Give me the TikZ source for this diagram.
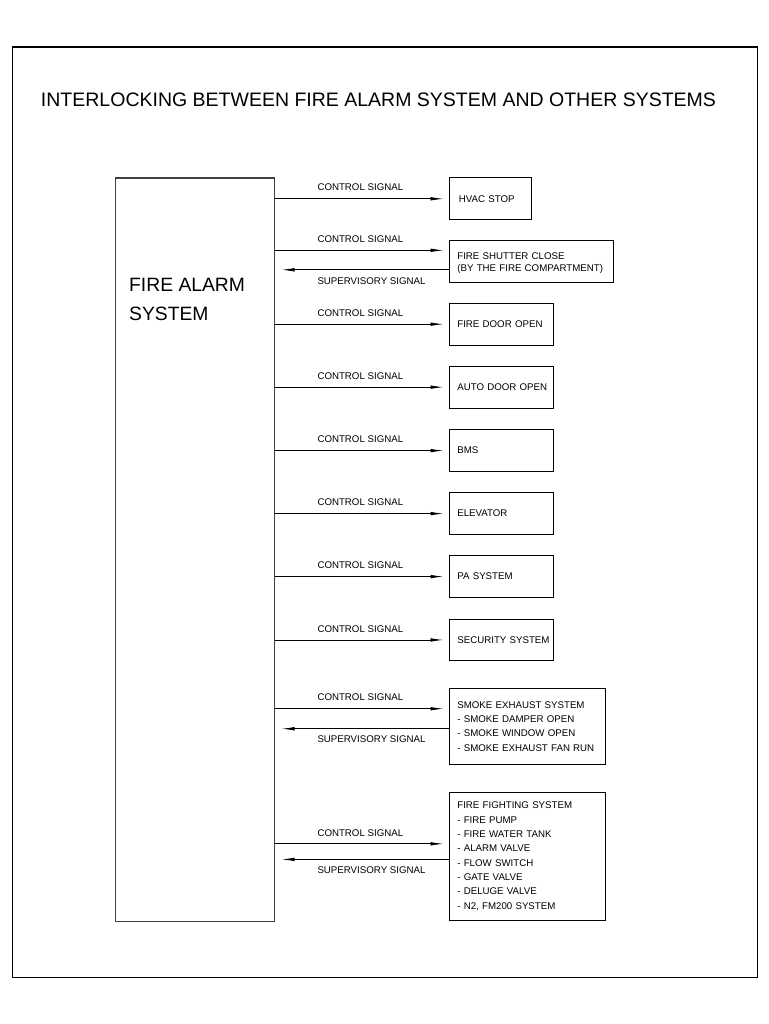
\documentclass[tikz,border=0pt]{standalone}
\usepackage{fontspec}
\setmainfont{Liberation Sans}
\usetikzlibrary{arrows.meta}
\tikzset{
  smallfont/.style={font=\fontsize{9.7}{14.3}\selectfont},
  sysbox/.style={draw, line width=0.9pt, rectangle, anchor=north west, inner xsep=8.4pt, inner ysep=0pt, align=left, smallfont},
  sigline/.style={line width=0.8pt, -{Latex[length=13pt,width=3.6pt]}},
  ctrl/.style={sigline, shorten >=5pt},
  sup/.style={sigline, shorten >=6.5pt},
  siglabel/.style={smallfont, inner sep=0pt}
}
\begin{document}
\begin{tikzpicture}[x=1pt,y=-1pt]
\useasboundingbox (0,0) rectangle (768,1024);
% frame
\node[draw, line width=1.2pt, rectangle, anchor=north west, minimum width=745pt, minimum height=930pt, inner sep=0pt] (frame) at (11.5,46.5) {};
% title
\node[font=\fontsize{19.5}{23}\selectfont, inner sep=0pt] (title) at (378.5,100) {INTERLOCKING BETWEEN FIRE ALARM SYSTEM AND OTHER SYSTEMS};
% main box
\node[draw, line width=1.1pt, draw=black!75, rectangle, anchor=north west, minimum width=159.5pt, minimum height=743pt, inner sep=0pt] (main) at (114.5,177.5) {};
\node[anchor=base west, align=left, inner sep=0pt, font=\fontsize{19.3}{29}\selectfont] (mainlabel) at ([xshift=14.5pt,yshift=-142.5pt]main.north west) {FIRE ALARM\\SYSTEM};
% system boxes
\node[sysbox, text width=65.7pt, minimum height=41.7pt] (hvac) at (448.5,177.5) {\hspace{1.5pt}HVAC STOP};
\node[sysbox, text width=147.5pt, minimum height=42.3pt, font=\fontsize{9.7}{11.7}\selectfont] (shutter) at (448.5,240) {\rule{0pt}{10pt}FIRE SHUTTER CLOSE\\(BY THE FIRE COMPARTMENT)};
\node[sysbox, text width=88pt, minimum height=42.5pt] (firedoor) at (448.5,302.5) {\mbox{FIRE DOOR OPEN}};
\node[sysbox, text width=88pt, minimum height=42pt] (autodoor) at (448.5,365.7) {\mbox{AUTO DOOR OPEN}};
\node[sysbox, text width=88pt, minimum height=41.7pt] (bms) at (448.5,429.3) {BMS};
\node[sysbox, text width=88pt, minimum height=41.7pt] (elevator) at (448.5,492.3) {ELEVATOR};
\node[sysbox, text width=88pt, minimum height=42.3pt] (pa) at (448.5,555) {PA SYSTEM};
\node[sysbox, text width=88pt, minimum height=41pt] (security) at (448.5,619) {\mbox{SECURITY SYSTEM}};
\node[sysbox, text width=139.7pt, minimum height=75.2pt] (smoke) at (448.5,688.3) {SMOKE EXHAUST SYSTEM\\- SMOKE DAMPER OPEN\\- SMOKE WINDOW OPEN\\- SMOKE EXHAUST FAN RUN};
\node[sysbox, text width=139.7pt, minimum height=128.5pt] (fight) at (448.5,791.5) {FIRE FIGHTING SYSTEM\\- FIRE PUMP\\- FIRE WATER TANK\\- ALARM VALVE\\- FLOW SWITCH\\- GATE VALVE\\- DELUGE VALVE\\- N2, FM200 SYSTEM};
% connection points
\coordinate (c1) at (hvac.west);
\coordinate (c2) at ([yshift=11.3pt]shutter.west);
\coordinate (s2) at ([yshift=-8.2pt]shutter.west);
\coordinate (c3) at (firedoor.west);
\coordinate (c4) at (autodoor.west);
\coordinate (c5) at (bms.west);
\coordinate (c6) at (elevator.west);
\coordinate (c7) at (pa.west);
\coordinate (c8) at (security.west);
\coordinate (c9) at ([yshift=17.6pt]smoke.west);
\coordinate (s9) at ([yshift=-2.4pt]smoke.west);
\coordinate (c10) at ([yshift=12.4pt]fight.west);
\coordinate (s10) at ([yshift=-3.2pt]fight.west);
% control signals
\foreach \c in {c1,c2,c3,c4,c5,c6,c7,c8,c9,c10}{
  \draw[ctrl] (main.east |- \c) -- node[pos=0, siglabel, anchor=base west, xshift=42pt, yshift=7.8pt]{CONTROL SIGNAL} (\c);
}
% supervisory signals
\foreach \s in {s2,s9,s10}{
  \draw[sup] (\s) -- node[pos=1, siglabel, anchor=base west, xshift=42pt, yshift=-14.2pt]{SUPERVISORY SIGNAL} (main.east |- \s);
}
\end{tikzpicture}
\end{document}
